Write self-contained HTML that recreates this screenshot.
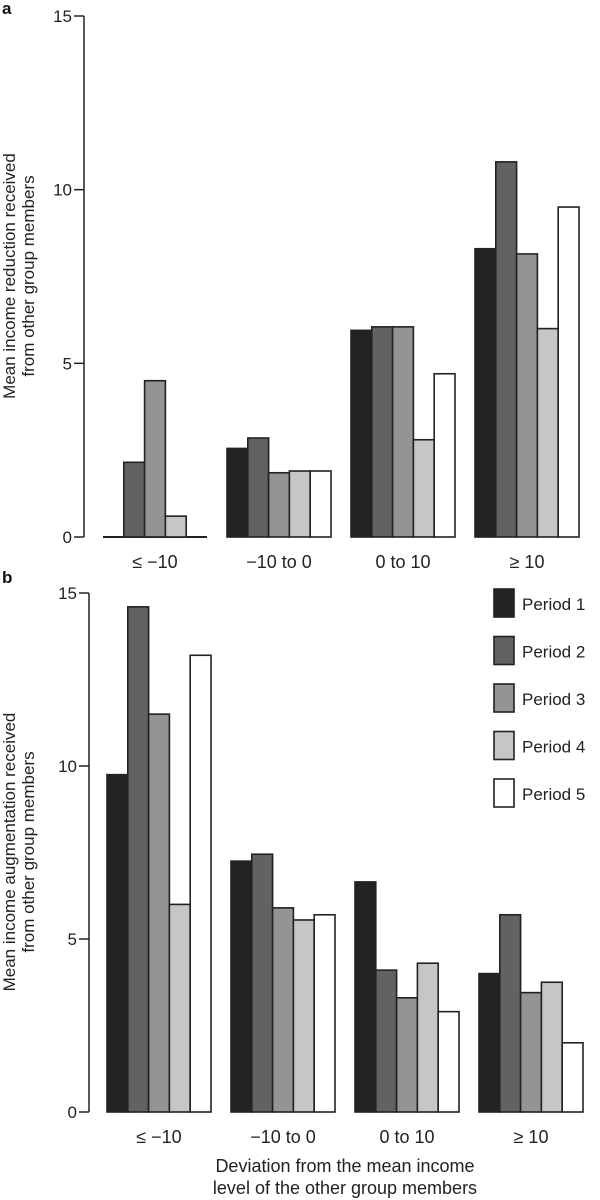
<!DOCTYPE html>
<html><head><meta charset="utf-8"><style>
body{margin:0;background:#fff;}
svg{display:block;font-family:"Liberation Sans",Arial,sans-serif;}
</style></head><body>
<svg id="c" width="600" height="1200"></svg>
<script>
const categories=["≤ −10","−10 to 0","0 to 10","≥ 10"];
const seriesNames=["Period 1","Period 2","Period 3","Period 4","Period 5"];
const reductionValues=[[0,2.15,4.5,0.6,null],[2.55,2.85,1.85,1.9,1.9],[5.95,6.05,6.05,2.8,4.7],[8.3,10.8,8.15,6.0,9.5]];
const augmentationValues=[[9.75,14.6,11.5,6.0,13.2],[7.25,7.45,5.9,5.55,5.7],[6.65,4.1,3.3,4.3,2.9],[4.0,5.7,3.45,3.75,2.0]];
const yTicks=[0,5,10,15];
const fills=["#232323","#626262","#949494","#c6c6c6","#ffffff"];
const NS="http://www.w3.org/2000/svg";
const svg=document.getElementById('c');
function mk(t,a,p){const e=document.createElementNS(NS,t);for(const k in a)e.setAttribute(k,a[k]);(p||svg).appendChild(e);return e;}
function panel(vals,o){
  const y=v=>o.y0-v*(o.y0-o.y15)/15;
  const g=mk('g',{});
  
  
  const ax=mk('line',{x1:o.ax,x2:o.ax,y1:y(15),y2:y(0),stroke:'#222','stroke-width':1.5},g);
  
  
  yTicks.forEach(t=>{
    mk('line',{x1:o.ax-10,x2:o.ax,y1:y(t),y2:y(t),stroke:'#222','stroke-width':1.5},g);
    const tx=mk('text',{x:o.ax-12,y:y(t)+6,'text-anchor':'end','font-size':17,fill:'#222'},g);
    tx.textContent=t;
    
    
  });
  vals.forEach((grp,i)=>{
    const gx=o.gx+i*124;
    if(o.baseline[i]) mk('line',{x1:gx,x2:gx+104,y1:y(0),y2:y(0),stroke:'#222','stroke-width':2},g);
    grp.forEach((v,j)=>{
      if(v===null||v<=0)return;
      const r=mk('rect',{x:gx+j*20.8,y:y(v),width:20.8,height:y(0)-y(v),fill:fills[j],stroke:'#222','stroke-width':1.6},g);
      
      
    });
    const lb=mk('text',{x:gx+52,y:y(0)+31,'text-anchor':'middle','font-size':18,fill:'#222'},g);
    lb.textContent=categories[i];
    
    
  });
  const yl=mk('text',{transform:`translate(${o.lx},${o.ly}) rotate(-90)`,'text-anchor':'middle','font-size':17,fill:'#222'},g);
  yl.innerHTML=`<tspan x="0" dy="0">${o.t1}</tspan><tspan x="0" dy="19">${o.t2}</tspan>`;
  
  
  const pl=mk('text',{x:2,y:o.py,'font-size':17,'font-weight':'bold',fill:'#111'},g);
  pl.textContent=o.letter;
  
  
}
panel(reductionValues,{name:'panel-a',y0:537,y15:16,ax:84,gx:103,baseline:[true,false,false,false],lx:15,ly:276,t1:'Mean income reduction received',t2:'from other group members',py:14,letter:'a'});
panel(augmentationValues,{name:'panel-b',y0:1112,y15:593,ax:89,gx:107,baseline:[false,false,false,false],lx:15,ly:852,t1:'Mean income augmentation received',t2:'from other group members',py:583,letter:'b'});
seriesNames.forEach((n,j)=>{
  const g=mk('g',{});
  
  
  const yy=589+j*47.5;
  mk('rect',{x:494,y:yy,width:20,height:28,fill:fills[j],stroke:'#222','stroke-width':1.6},g);
  const t=mk('text',{x:522,y:yy+21,'font-size':17,fill:'#222'},g);
  t.textContent=n;
});
const xt=mk('text',{x:345,y:1172,'text-anchor':'middle','font-size':18,fill:'#222'});
xt.innerHTML='<tspan x="345" dy="0">Deviation from the mean income</tspan><tspan x="345" dy="22">level of the other group members</tspan>';


</script>
</body></html>
